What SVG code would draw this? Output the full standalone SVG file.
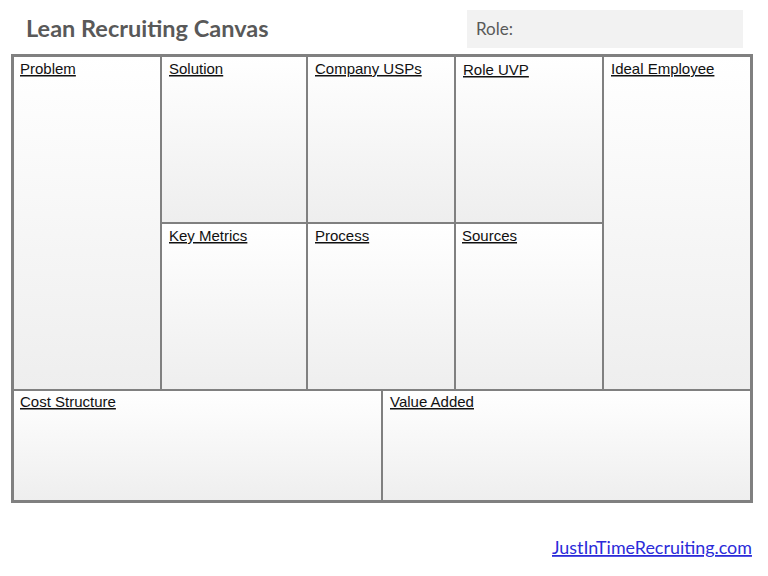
<svg xmlns="http://www.w3.org/2000/svg" width="768" height="576" viewBox="0 0 768 576">
<defs>
<linearGradient id="g" x1="0" y1="0" x2="0" y2="1">
<stop offset="0" stop-color="#ffffff"/>
<stop offset="1" stop-color="#eeeeee"/>
</linearGradient>
<style>
.cell{fill:url(#g);stroke:#808080;stroke-width:2}
.lbl{font-family:"Liberation Sans",Arial,sans-serif;font-size:15px;fill:#111;text-decoration:underline}
.title{font-family:Lato,"Open Sans",sans-serif;font-weight:bold;font-size:23.5px;fill:#595959}
.role{font-family:Lato,"Open Sans",sans-serif;font-size:17px;fill:#595959}
.link{font-family:Lato,"Open Sans",sans-serif;font-size:17.9px;fill:#2b2bd9;text-decoration:underline}
</style>
</defs>
<rect width="768" height="576" fill="#ffffff"/>
<g id="title"><text class="title" x="26" y="37">Lean Recruiting Canvas</text></g>
<g id="role"><rect x="467" y="10" width="276" height="38" fill="#f2f2f2"/><text class="role" x="476" y="35">Role:</text></g>
<g id="problem"><rect class="cell" x="12" y="56" width="149" height="334"/><text class="lbl" x="20" y="74">Problem</text></g>
<g id="solution"><rect class="cell" x="161" y="56" width="146" height="167"/><text class="lbl" x="169" y="74">Solution</text></g>
<g id="usps"><rect class="cell" x="307" y="56" width="148" height="167"/><text class="lbl" x="315" y="74">Company USPs</text></g>
<g id="uvp"><rect class="cell" x="455" y="56" width="148" height="167"/><text class="lbl" x="463" y="75">Role UVP</text></g>
<g id="ideal"><rect class="cell" x="603" y="56" width="149" height="334"/><text class="lbl" x="611" y="74">Ideal Employee</text></g>
<g id="metrics"><rect class="cell" x="161" y="223" width="146" height="167"/><text class="lbl" x="169" y="241">Key Metrics</text></g>
<g id="process"><rect class="cell" x="307" y="223" width="148" height="167"/><text class="lbl" x="315" y="241">Process</text></g>
<g id="sources"><rect class="cell" x="455" y="223" width="148" height="167"/><text class="lbl" x="462" y="241">Sources</text></g>
<g id="cost"><rect class="cell" x="12" y="390" width="370" height="111"/><text class="lbl" x="20" y="407">Cost Structure</text></g>
<g id="value"><rect class="cell" x="382" y="390" width="370" height="111"/><text class="lbl" x="390" y="407">Value Added</text></g>
<g id="frame"><rect x="12.5" y="55.5" width="739" height="446" fill="none" stroke="#808080" stroke-width="3"/></g>
<g id="footer"><text class="link" x="552" y="554">JustInTimeRecruiting.com</text></g>
</svg>
